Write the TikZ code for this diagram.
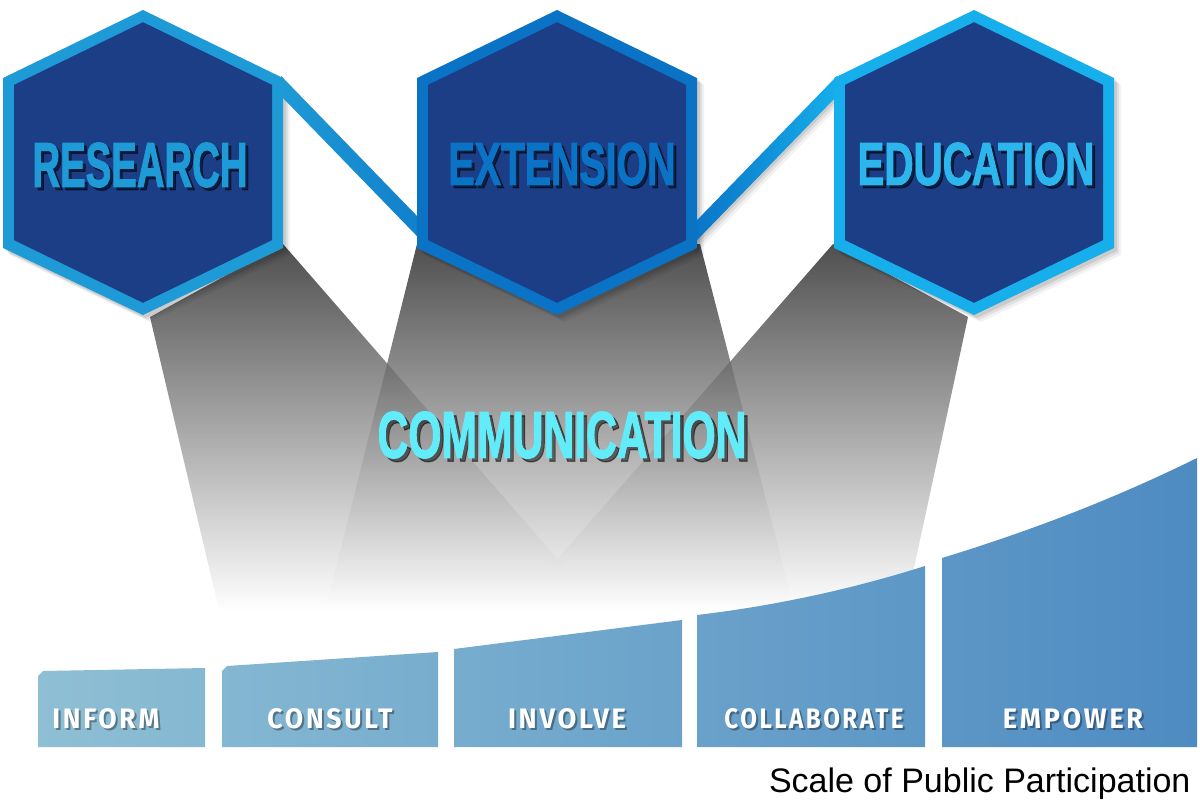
\documentclass[tikz,border=0pt]{standalone}
\usepackage{fontspec}
\usepackage{graphicx}
\setmainfont{Liberation Sans}
\newfontfamily\hexfont{Liberation Sans}[FakeBold=2]
\newfontfamily\barfont{Fira Sans}[LetterSpace=10]
\usetikzlibrary{calc}
\definecolor{navy}{HTML}{1C3E86}
\definecolor{resB}{HTML}{1E9AD6}
\definecolor{extB}{HTML}{0A73C6}
\definecolor{eduB}{HTML}{16AEEB}
\definecolor{commC}{HTML}{62ECF9}
\definecolor{barL}{HTML}{8EBFD4}
\definecolor{barR}{HTML}{4E8BC2}
\definecolor{beamTop}{HTML}{242424}
\definecolor{beamMid}{HTML}{B4B4B4}
\newcommand\fitt[3]{\resizebox{#1}{#2}{#3}}
% shadow-only hexagon
\newcommand\hexshadow[1]{%
  \begin{scope}[shift={(#1,0)}]
    \foreach \d/\o in {7/0.05,5/0.07,3/0.09}{
      \fill[black,opacity=\o] (\d,10+\d)--(140+\d,78+\d)--(140+\d,248+\d)--(\d,315+\d)--(-140+\d,248+\d)--(-140+\d,78+\d)--cycle;}
  \end{scope}}
% hexagon
\newcommand\hexa[3]{%
  \begin{scope}[shift={(#2,0)}]
    \fill[#3] (0,10)--(140,78)--(140,248)--(0,315)--(-140,248)--(-140,78)--cycle;
    \fill[navy] (0,22.2)--(129,84.9)--(129,240.1)--(0,302.8)--(-129,240.1)--(-129,84.9)--cycle;
    \coordinate (#1) at (0,162.5);
  \end{scope}}
\tikzset{
  lab/.style={inner sep=0pt, outer sep=0pt},
  beam/.style={top color=beamTop, middle color=beamMid, bottom color=white, opacity=0.8},
}
\begin{document}
\begin{tikzpicture}[x=1pt,y=-1pt]
\useasboundingbox (0,0) rectangle (1200,801);
\fill[white] (0,0) rectangle (1200,801);

% spotlight beams
\shade[beam] (283,244) -- (602,610) -- (219,610) -- (150,317) -- cycle;
\shade[beam] (417,244) -- (700,244) -- (794.5,610) -- (325.5,610) -- cycle;
\shade[beam] (833,244) -- (968,317) -- (905,610) -- (513,610) -- cycle;

% shadows
\hexshadow{143}
\hexshadow{557}
\hexshadow{974}
\foreach \d/\o in {6/0.05,4/0.07,2/0.09}{
  \fill[black,opacity=\o] (281+\d,75.9+\d) -- (425+\d,224.3+\d) -- (425+\d,244.3+\d) -- (281+\d,95.9+\d) -- cycle;
  \fill[black,opacity=\o] (690+\d,227.4+\d) -- (837+\d,75.9+\d) -- (837+\d,95.9+\d) -- (690+\d,247.4+\d) -- cycle;
}

% connecting bands
\shade[left color=resB, right color=extB!70!resB] (281,75.9) -- (425,224.3) -- (425,244.3) -- (281,95.9) -- cycle;
\shade[left color=extB, right color=eduB] (690,227.4) -- (837,75.9) -- (837,95.9) -- (690,247.4) -- cycle;

% hexagons
\hexa{hr}{143}{resB}
\hexa{he}{557}{extB}
\hexa{hd}{974}{eduB}

% hexagon titles
\node[lab, text=black, opacity=0.5] at (143,168) {\fitt{215pt}{44pt}{\hexfont\bfseries RESEARCH}};
\node[lab, text=resB] (research) at (140,165) {\fitt{215pt}{44pt}{\hexfont\bfseries RESEARCH}};
\node[lab, text=black, opacity=0.5] at (565,167) {\fitt{227pt}{42pt}{\hexfont\bfseries EXTENSION}};
\node[lab, text=extB] (extension) at (562,164) {\fitt{227pt}{42pt}{\hexfont\bfseries EXTENSION}};
\node[lab, text=black, opacity=0.5] at (979,167) {\fitt{237pt}{42pt}{\hexfont\bfseries EDUCATION}};
\node[lab, text=eduB!90!white] (education) at (976,164) {\fitt{237pt}{42pt}{\hexfont\bfseries EDUCATION}};

% communication
\node[lab, text=black, opacity=0.5] at (565.5,438.5) {\fitt{369pt}{46pt}{\hexfont\bfseries COMMUNICATION}};
\node[lab, text=commC] (communication) at (562,435) {\fitt{369pt}{46pt}{\hexfont\bfseries COMMUNICATION}};

% scale bars
\shade[left color=barL, right color=barR]
  (38,747) -- (38,676) -- (43,671) -- (205,668) -- (205,747) -- cycle
  (222,747) -- (222,671) -- (227,666) -- (438,652) -- (438,747) -- cycle
  (454,747) -- (454,649) -- (682,620) -- (682,747) -- cycle
  (697,747) -- (697,615) .. controls (773,606) and (849,590) .. (925,566) -- (925,747) -- cycle
  (942,747) -- (942,558) .. controls (1027,532) and (1112,500) .. (1197,458) -- (1197,747) -- cycle;

% bar labels
\foreach \nm/\x/\w/\t in {inform/106/107/INFORM, consult/330/125/CONSULT, involve/567/118/INVOLVE, collaborate/814/179/COLLABORATE, empower/1073/140/EMPOWER}{
  \node[lab, text=black, opacity=0.35] at (\x+2,721) {\fitt{\w pt}{20pt}{\barfont\bfseries \t}};
  \node[lab, text=white] (\nm) at (\x,719) {\fitt{\w pt}{20pt}{\barfont\bfseries \t}};
}

% caption
\node[lab, anchor=base west] (scale) at (769,792) {\fontsize{34}{40}\selectfont Scale of Public Participation};
\end{tikzpicture}
\end{document}
